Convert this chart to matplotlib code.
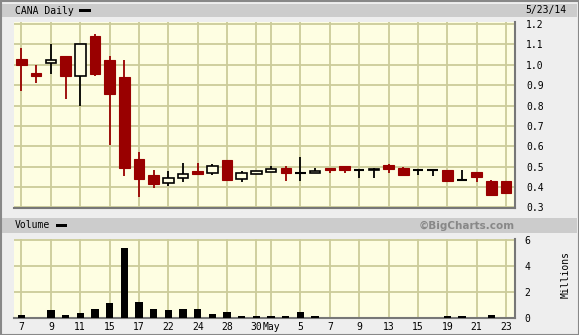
import matplotlib
matplotlib.use('Agg')
import matplotlib.pyplot as plt
from matplotlib.patches import Rectangle
import numpy as np

# daily candles for CANA, Apr 7 - May 23 2014
opens  = [1.03, 0.96, 1.007, 1.043, 0.946, 1.143, 1.023, 0.94, 0.536, 0.459,
          0.418, 0.447, 0.477, 0.467, 0.531, 0.442, 0.462, 0.475, 0.496, 0.467,
          0.467, 0.496, 0.506, 0.486, 0.482, 0.509, 0.495, 0.486, 0.486, 0.486,
          0.434, 0.472, 0.429, 0.428]
highs  = [1.08, 1.00, 1.10, 1.043, 1.102, 1.151, 1.043, 1.023, 0.570, 0.483,
          0.477, 0.516, 0.516, 0.513, 0.531, 0.477, 0.477, 0.506, 0.506, 0.547,
          0.496, 0.496, 0.506, 0.486, 0.496, 0.513, 0.498, 0.486, 0.486, 0.486,
          0.486, 0.472, 0.437, 0.428]
lows   = [0.87, 0.91, 0.956, 0.83, 0.80, 0.946, 0.606, 0.455, 0.352, 0.396,
          0.406, 0.426, 0.465, 0.460, 0.436, 0.426, 0.462, 0.475, 0.431, 0.431,
          0.467, 0.470, 0.470, 0.447, 0.447, 0.470, 0.455, 0.460, 0.455, 0.431,
          0.434, 0.426, 0.357, 0.364]
closes = [1.00, 0.945, 1.023, 0.945, 1.102, 0.956, 0.858, 0.495, 0.441, 0.416,
          0.447, 0.462, 0.466, 0.506, 0.436, 0.467, 0.477, 0.491, 0.470, 0.467,
          0.481, 0.485, 0.485, 0.486, 0.486, 0.491, 0.460, 0.486, 0.486, 0.431,
          0.434, 0.450, 0.362, 0.372]
volume = [0.18, 0.0, 0.57, 0.18, 0.34, 0.65, 1.12, 5.4, 1.19, 0.65,
          0.57, 0.65, 0.65, 0.26, 0.42, 0.10, 0.10, 0.10, 0.10, 0.42,
          0.10, 0.0, 0.0, 0.0, 0.0, 0.0, 0.0, 0.0, 0.0, 0.10,
          0.10, 0.0, 0.18, 0.0]  # millions

tick_idx = [0, 2, 4, 6, 8, 10, 12, 14, 16, 17, 19, 21, 23, 25, 27, 29, 31, 33]
tick_lab = ['7', '9', '11', '15', '17', '22', '24', '28', '30', 'May',
            '5', '7', '9', '13', '15', '19', '21', '23']
price_ticks = [0.3, 0.4, 0.5, 0.6, 0.7, 0.8, 0.9, 1.0, 1.1, 1.2]
vol_ticks = [0, 2, 4, 6]

W, H = 579, 335
BG = '#eeeeee'
BAR = '#cccccc'
PLOTBG = '#fefee2'
GRID = '#cccc99'
RED = '#990000'
MONO = 'DejaVu Sans Mono'

fig = plt.figure(figsize=(W / 100, H / 100), dpi=100, facecolor=BG)

def box(x0, y0, x1, y1):
    # pixel box (top-left origin) -> figure fraction rect
    return [x0 / W, 1 - y1 / H, (x1 - x0) / W, (y1 - y0) / H]

def frect(x0, y0, x1, y1, **kw):
    fig.patches.append(Rectangle((x0 / W, 1 - y1 / H), (x1 - x0) / W, (y1 - y0) / H,
                                 transform=fig.transFigure, **kw))

# header bars
frect(2, 4, 577, 17, facecolor=BAR, edgecolor='none')
frect(2, 218, 577, 233, facecolor=BAR, edgecolor='none')
frect(0.5, 0.5, W - 0.5, H - 0.5, facecolor='none', edgecolor='#888888', lw=1.5)

fig.text(15 / W, 1 - 10.5 / H, 'CANA Daily', family=MONO, fontsize=7, va='center')
frect(79, 9, 91, 12, facecolor='black', edgecolor='none')
fig.text(566 / W, 1 - 10 / H, '5/23/14', family=MONO, fontsize=7, va='center', ha='right')
fig.text(15 / W, 1 - 225.5 / H, 'Volume', family=MONO, fontsize=7, va='center')
frect(56, 224, 67, 227, facecolor='black', edgecolor='none')
fig.text(515 / W, 1 - 225.5 / H, '\u00a9BigCharts.com', fontsize=7.5, fontweight='bold',
         color='#888888', va='center', ha='right')
fig.text(566 / W, 1 - 275 / H, 'Millions', family=MONO, fontsize=7, rotation=90,
         va='center', ha='center')

x = np.arange(len(opens))

def style(ax):
    ax.set_facecolor(PLOTBG)
    ax.set_xlim(-0.51, 33.61)
    ax.set_xticks(tick_idx)
    ax.grid(True, color=GRID, lw=1.3)
    ax.set_axisbelow(True)
    for s in ['top', 'left']:
        ax.spines[s].set_visible(False)
    for s in ['bottom', 'right']:
        ax.spines[s].set_color('#777777')
        ax.spines[s].set_linewidth(1.5)
    ax.yaxis.tick_right()
    ax.tick_params(length=0)
    for t in ax.get_yticklabels() + ax.get_xticklabels():
        t.set_family(MONO)
        t.set_fontsize(7)

# price panel
ax = fig.add_axes(box(14, 22, 515, 208))
style(ax)
ax.set_ylim(0.2975, 1.21)
ax.set_yticks(price_ticks)
ax.set_yticklabels(['%.1f' % p for p in price_ticks], family=MONO, fontsize=7)
ax.set_xticklabels([])
ax.tick_params(axis='y', pad=8)

wd = 0.72
for i in x:
    o, h, l, c = opens[i], highs[i], lows[i], closes[i]
    if c < o:
        col = RED
    else:
        col = 'black'
    ax.vlines(i, l, h, color=col, lw=1.3, zorder=2)
    if c < o:
        ax.bar(i, o - c, wd, bottom=c, color=RED, edgecolor=RED, lw=0.8, zorder=3)
    elif c > o:
        ax.bar(i, max(c - o, 0.006), wd, bottom=o, facecolor=PLOTBG, edgecolor='black',
               lw=1.2, zorder=3)
    else:
        ax.hlines(c, i - wd / 2, i + wd / 2, color='black', lw=1.5, zorder=3)

# volume panel
axv = fig.add_axes(box(14, 239, 515, 317.5))
style(axv)
axv.set_ylim(0, 6.1)
axv.set_yticks(vol_ticks)
axv.set_yticklabels([str(v) for v in vol_ticks], family=MONO, fontsize=7)
axv.set_xticklabels(tick_lab, family=MONO, fontsize=7)
axv.tick_params(axis='y', pad=7)
axv.tick_params(axis='x', pad=3)
axv.bar(x, volume, 0.5, color='black', zorder=3)

fig.savefig('out.png', dpi=100, facecolor=BG)
